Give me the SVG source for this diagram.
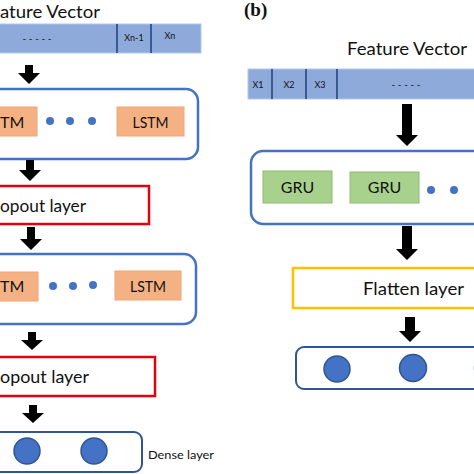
<svg xmlns="http://www.w3.org/2000/svg" width="474" height="474" viewBox="0 0 474 474">
<style>
.t{font-family:Lato,"Open Sans","Liberation Sans",sans-serif;fill:#111}
.bar{fill:#8eaadb;stroke:#b4c7e7;stroke-width:1}
.div{stroke:#3a5a96;stroke-width:2}
.cont{fill:#fff;stroke:#4472c4;stroke-width:2.5}
.lstm{fill:#f4b183;stroke:#f2a679;stroke-width:1}
.gru{fill:#a9d18e;stroke:#8fbc72;stroke-width:1}
.drop{fill:#fff;stroke:#e3000f;stroke-width:2.5}
.flat{fill:#fff;stroke:#ffc000;stroke-width:2.5}
.dense{fill:#fff;stroke:#2f5597;stroke-width:2}
.dot{fill:#4472c4}
.neuron{fill:#4472c4;stroke:#2f5597;stroke-width:1.5}
.arr{fill:#000}
.small{font-size:9px}
</style>
<rect width="474" height="474" fill="#fff"/>
<g id="left-title"><text class="t" x="0" y="17.5" font-size="17" textLength="100" lengthAdjust="spacingAndGlyphs">ature Vector</text></g>
<g id="left-vector">
<rect class="bar" x="-2" y="24" width="203" height="29"/>
<line class="div" x1="117" y1="24" x2="117" y2="53"/>
<line class="div" x1="151" y1="24" x2="151" y2="53"/>
<text class="t" x="37" y="42" font-size="10" text-anchor="middle" fill="#555">- - - - -</text>
<text class="t small" x="134" y="41" text-anchor="middle">Xn-1</text>
<text class="t small" x="170" y="39" text-anchor="middle">Xn</text>
</g>
<g id="left-lstm1">
<rect class="cont" x="-14" y="89" width="212" height="70" rx="12"/>
<rect class="lstm" x="-10" y="107" width="47" height="29"/>
<text class="t" x="0" y="128" font-size="16">TM</text>
<circle class="dot" cx="50" cy="121" r="4"/><circle class="dot" cx="70" cy="121" r="4"/><circle class="dot" cx="92" cy="121" r="4"/>
<rect class="lstm" x="117" y="107" width="67" height="29"/>
<text class="t" x="150.5" y="128" font-size="16" text-anchor="middle" textLength="36" lengthAdjust="spacingAndGlyphs">LSTM</text>
</g>
<g id="left-dropout1">
<rect class="drop" x="-10" y="186" width="159" height="38"/>
<text class="t" x="0" y="212" font-size="18" textLength="86" lengthAdjust="spacingAndGlyphs">opout layer</text>
</g>
<g id="left-lstm2">
<rect class="cont" x="-14" y="254" width="210" height="70" rx="12"/>
<rect class="lstm" x="-10" y="272" width="48" height="29"/>
<text class="t" x="0" y="292" font-size="16">TM</text>
<circle class="dot" cx="53" cy="286" r="4"/><circle class="dot" cx="73" cy="286" r="4"/><circle class="dot" cx="93" cy="285" r="4"/>
<rect class="lstm" x="115" y="271" width="66" height="29"/>
<text class="t" x="148" y="292" font-size="16" text-anchor="middle" textLength="36" lengthAdjust="spacingAndGlyphs">LSTM</text>
</g>
<g id="left-dropout2">
<rect class="drop" x="-10" y="357" width="165" height="39"/>
<text class="t" x="0" y="383" font-size="18" textLength="89" lengthAdjust="spacingAndGlyphs">opout layer</text>
</g>
<g id="left-dense">
<rect class="dense" x="-14" y="432" width="156" height="40" rx="8"/>
<circle class="neuron" cx="27" cy="451" r="13"/>
<circle class="neuron" cx="94" cy="451" r="13"/>
</g>
<g id="left-dense-label"><text class="t" x="148" y="459" font-size="12" textLength="66" lengthAdjust="spacingAndGlyphs">Dense layer</text></g>
<g id="label-b"><text x="244" y="16" font-family="Liberation Serif,serif" font-weight="bold" font-size="19" fill="#111">(b)</text></g>
<g id="right-title"><text class="t" x="347" y="55" font-size="18" textLength="120" lengthAdjust="spacingAndGlyphs">Feature Vector</text></g>
<g id="right-vector">
<rect class="bar" x="248" y="69" width="230" height="30"/>
<line class="div" x1="272" y1="69" x2="272" y2="99"/>
<line class="div" x1="306" y1="69" x2="306" y2="99"/>
<line class="div" x1="337" y1="69" x2="337" y2="99"/>
<text class="t small" x="258" y="88" text-anchor="middle">X1</text>
<text class="t small" x="289" y="88" text-anchor="middle">X2</text>
<text class="t small" x="320" y="88" text-anchor="middle">X3</text>
<text class="t" x="406" y="88" font-size="10" text-anchor="middle" fill="#555">- - - - -</text>
</g>
<g id="right-gru">
<rect class="cont" x="251" y="151" width="240" height="73" rx="12"/>
<rect class="gru" x="263" y="171" width="69" height="32"/>
<text class="t" x="297.5" y="193" font-size="16" text-anchor="middle">GRU</text>
<rect class="gru" x="350" y="172" width="69" height="31"/>
<text class="t" x="384.5" y="193" font-size="16" text-anchor="middle">GRU</text>
<circle class="dot" cx="431" cy="190" r="4"/><circle class="dot" cx="454" cy="190" r="4"/>
</g>
<g id="right-flatten">
<rect class="flat" x="293" y="268" width="200" height="40"/>
<text class="t" x="363" y="295" font-size="18" textLength="101" lengthAdjust="spacingAndGlyphs">Flatten layer</text>
</g>
<g id="right-dense">
<rect class="dense" x="296" y="347" width="200" height="42" rx="8"/>
<circle class="neuron" cx="337" cy="369" r="13"/>
<circle class="neuron" cx="413" cy="368" r="13.5"/>
<circle class="neuron" cx="488" cy="368" r="13.5"/>
</g>
<g id="connectors">
<path class="arr" d="M25,65H33V73H40L29,84L18,73H25Z"/>
<path class="arr" d="M26,160H34V170H41L30,181L19,170H26Z"/>
<path class="arr" d="M27,227H35V239H42L31,250L20,239H27Z"/>
<path class="arr" d="M28,332H36V340H43L32,350L21,340H28Z"/>
<path class="arr" d="M29,405H37V413H44L33,423L22,413H29Z"/>
<path class="arr" d="M402,104H412V135H418L407,146L396,135H402Z"/>
<path class="arr" d="M402,226H412V249H418L407,260L396,249H402Z"/>
<path class="arr" d="M405,317H415V331H421L410,342L399,331H405Z"/>
</g>
</svg>
